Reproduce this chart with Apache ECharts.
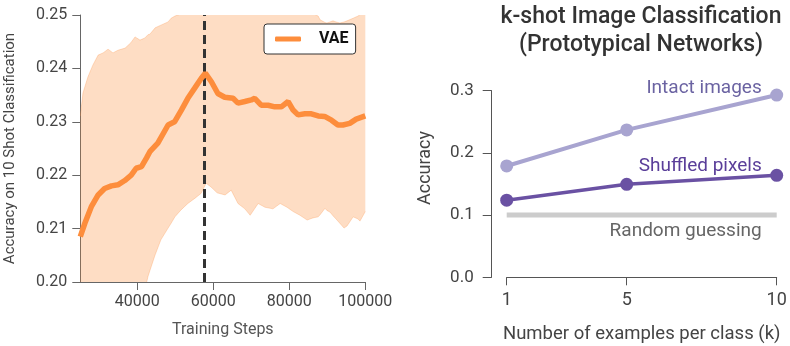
<!DOCTYPE html>
<html>
<head>
<meta charset="utf-8">
<script src="https://cdn.jsdelivr.net/npm/echarts@6/dist/echarts.min.js"></script>
<style>html,body{margin:0;padding:0;background:#fff}#c{width:790px;height:346px}</style>
</head>
<body>
<div id="c"></div>
<script>
// ---- Left panel data (VAE accuracy vs training steps) ----
const vaeSteps = [25000,26200,27900,29700,31400,33200,34900,36700,38400,39700,41100,42400,43300,45400,48100,49800,51600,53300,55100,56800,57900,59500,61200,63000,65200,66500,68300,70000,70900,72600,74400,76200,77900,79700,81000,82300,84100,85800,87600,89300,91100,92800,94100,95900,97600,100000];
const vaeAcc = [0.2085,0.2110,0.2141,0.2163,0.2175,0.2180,0.2182,0.2190,0.2200,0.2213,0.2216,0.2232,0.2244,0.2260,0.2294,0.2300,0.2322,0.2344,0.2363,0.2381,0.2391,0.2375,0.2353,0.2346,0.2344,0.2335,0.2338,0.2341,0.2344,0.2331,0.2331,0.2328,0.2328,0.2338,0.2322,0.2313,0.2315,0.2315,0.2311,0.2310,0.2303,0.2294,0.2294,0.2297,0.2305,0.2311];
const bandSteps = [25000,25700,27000,28300,29700,31000,32300,33600,34900,36800,38300,39400,40700,42000,42800,43300,44700,46200,48100,48900,49900,51500,53300,55200,56800,58100,59400,61000,63100,64700,66500,68300,69700,71800,73600,75700,77600,79400,81000,82800,84700,86200,87600,88100,89400,89900,90700,91500,92300,93300,94400,95200,96800,98100,98600,100000];
const bandUpper = [0.2311,0.2354,0.2384,0.2406,0.2425,0.2429,0.2436,0.2429,0.2434,0.2438,0.2448,0.2459,0.2453,0.2457,0.2463,0.2464,0.2476,0.2481,0.2487,0.2494,0.2498,0.2502,0.2506,0.2512,0.2515,0.2518,0.2516,0.2514,0.2517,0.2515,0.2513,0.2516,0.2518,0.2515,0.2512,0.2514,0.2511,0.2513,0.2510,0.2508,0.2506,0.2503,0.2498,0.2491,0.2486,0.2485,0.2487,0.2489,0.2487,0.2485,0.2487,0.2489,0.2494,0.2498,0.2501,0.2502];
const bandLower = [0.180,0.181,0.182,0.183,0.184,0.185,0.186,0.187,0.188,0.190,0.192,0.194,0.196,0.1985,0.2010,0.2021,0.2051,0.2079,0.2101,0.2110,0.2122,0.2135,0.2147,0.2157,0.2166,0.2185,0.2178,0.2167,0.2163,0.2172,0.2147,0.2137,0.2125,0.2147,0.2140,0.2137,0.2147,0.2140,0.2132,0.2125,0.2116,0.2120,0.2122,0.2126,0.2138,0.2134,0.2131,0.2124,0.2118,0.2110,0.2101,0.2105,0.2122,0.2118,0.2114,0.2132];
const bestStep = 57500;
const leftXTicks = [40000,60000,80000,100000];

// ---- Right panel data (k-shot classification) ----
const kValues = [1,5,10];
const intactAcc = [0.179,0.237,0.293];
const shuffledAcc = [0.124,0.1495,0.164];
const randomK = [1,10];
const randomAcc = [0.1,0.1];

const FONT = 'Roboto, "Noto Sans", sans-serif';
const chart = echarts.init(document.getElementById('c'), null, {renderer:'canvas'});

const pairs = (xs, ys) => xs.map((x,i)=>[x, ys[i]]);
function withLast(xs, ys){ return xs.map((x,i)=>({value:[x,ys[i]]})); }
function labelLast(arr, txt, color, dx, dy){
  const n = arr.length - 1;
  arr[n].label = {show:true, formatter: txt, position:[dx,dy], align:'right', verticalAlign:'middle', color: color, fontFamily: FONT, fontSize: 19};
  return arr;
}

function renderBand(params, api){
  if (params.dataIndex !== 0) return;
  const up = bandSteps.map((s,i)=>api.coord([s, bandUpper[i]]));
  const lo = bandSteps.map((s,i)=>api.coord([s, bandLower[i]]));
  const poly = up.concat(lo.slice().reverse());
  return {
    type: 'group',
    children: [
      {type:'polygon', shape:{points: poly}, style:{fill:'rgba(253,141,60,0.3)'}},
      {type:'polyline', shape:{points: up}, style:{fill:null, stroke:'rgba(253,141,60,0.28)', lineWidth:1}},
      {type:'polyline', shape:{points: lo}, style:{fill:null, stroke:'rgba(253,141,60,0.28)', lineWidth:1}}
    ]
  };
}

const option = {
  backgroundColor: '#fff',
  animation: false,
  title: {
    text: 'k-shot Image Classification\n(Prototypical Networks)',
    left: 636, top: -2, textAlign: 'center',
    textStyle: {fontFamily: FONT, fontSize: 23, fontWeight: 500, color: '#333', lineHeight: 28}
  },
  legend: {
    data: [{name:'VAE'}],
    left: 264, top: 24,
    padding: [7, 7, 7, 11],
    icon: 'roundRect',
    itemWidth: 26, itemHeight: 5,
    borderColor: '#333', borderWidth: 1, borderRadius: 3,
    backgroundColor: '#fff',
    textStyle: {fontFamily: FONT, fontSize: 16, fontWeight: 'bold', color: '#111', padding: [0,0,0,13], lineHeight: 15}
  },
  graphic: [
    {type:'text', x: 425, y: 168, rotation: Math.PI/2,
     style:{text:'Accuracy', align:'center', verticalAlign:'middle', fill:'#444', font:'18px Roboto, "Noto Sans", sans-serif'}}
  ],
  grid: [
    {left: 80.3, right: 424.7, top: 15, bottom: 64, outerBoundsMode: 'none', containLabel: false},
    {left: 506.7, right: 13.3, top: 90.7, bottom: 68.7, outerBoundsMode: 'none', containLabel: false}
  ],
  xAxis: [
    {
      gridIndex: 0, type: 'value', min: 25000, max: 100000,
      name: 'Training Steps', nameLocation: 'middle', nameGap: 40,
      nameTextStyle: {fontFamily: FONT, fontSize: 16, color: '#555'},
      axisLine: {show: true, lineStyle: {color: '#666', width: 1}},
      axisTick: {show: true, length: 8, customValues: leftXTicks, lineStyle: {color: '#666'}},
      axisLabel: {customValues: leftXTicks, margin: 12, fontFamily: FONT, fontSize: 16, color: '#444', formatter: v => String(v)},
      splitLine: {show: false}
    },
    {
      gridIndex: 1, type: 'value', min: 1, max: 10, offset: 1.5,
      name: 'Number of examples per class (k)', nameLocation: 'middle', nameGap: 46,
      nameTextStyle: {fontFamily: FONT, fontSize: 18.5, color: '#444'},
      axisLine: {show: true, lineStyle: {color: '#555', width: 1}},
      axisTick: {show: true, length: 8, customValues: kValues, lineStyle: {color: '#555'}},
      axisLabel: {customValues: kValues, margin: 13, fontFamily: FONT, fontSize: 18, color: '#444', formatter: v => String(v)},
      splitLine: {show: false}
    }
  ],
  yAxis: [
    {
      gridIndex: 0, type: 'value', min: 0.20, max: 0.25, interval: 0.01,
      name: 'Accuracy on 10 Shot Classification', nameLocation: 'middle', nameGap: 63,
      nameTextStyle: {fontFamily: FONT, fontSize: 15, color: '#444'},
      axisLine: {show: true, lineStyle: {color: '#666', width: 1}},
      axisTick: {show: true, length: 8, lineStyle: {color: '#666'}},
      axisLabel: {margin: 13, fontFamily: FONT, fontSize: 16, color: '#444', formatter: v => v.toFixed(2)},
      splitLine: {show: false}
    },
    {
      gridIndex: 1, type: 'value', min: 0, max: 0.3, interval: 0.1, offset: 15,
      axisLine: {show: true, lineStyle: {color: '#555', width: 1}},
      axisTick: {show: true, length: 9, lineStyle: {color: '#555'}},
      axisLabel: {margin: 18, fontFamily: FONT, fontSize: 17, color: '#444', formatter: v => v.toFixed(1)},
      splitLine: {show: false}
    }
  ],
  series: [
    {
      name: 'band', type: 'custom', xAxisIndex: 0, yAxisIndex: 0,
      coordinateSystem: 'cartesian2d', clip: true, silent: true,
      data: [[bandSteps[0], bandLower[0]]],
      renderItem: renderBand, z: 1
    },
    {
      name: 'VAE', type: 'line', xAxisIndex: 0, yAxisIndex: 0,
      data: pairs(vaeSteps, vaeAcc), symbol: 'none',
      lineStyle: {color: '#fd8d3c', width: 5.5},
      itemStyle: {color: '#fd8d3c'},
      markLine: {
        silent: true, symbol: 'none', label: {show: false},
        lineStyle: {color: '#333', width: 3, type: [9, 5]},
        data: [{xAxis: bestStep}]
      },
      z: 5
    },
    {
      name: 'Random guessing', type: 'line', xAxisIndex: 1, yAxisIndex: 1,
      data: labelLast(withLast(randomK, randomAcc), 'Random guessing', '#666', -15, 15.7),
      symbol: 'circle', symbolSize: 0.01, showSymbol: true,
      lineStyle: {color: '#cccccc', width: 5},
      itemStyle: {color: '#cccccc'}
    },
    {
      name: 'Intact images', type: 'line', xAxisIndex: 1, yAxisIndex: 1,
      data: labelLast(withLast(kValues, intactAcc), 'Intact images', '#6b63a2', -8.5, 0),
      symbol: 'circle', symbolSize: 13,
      lineStyle: {color: '#a8a4d0', width: 4},
      itemStyle: {color: '#a8a4d0'}
    },
    {
      name: 'Shuffled pixels', type: 'line', xAxisIndex: 1, yAxisIndex: 1,
      data: labelLast(withLast(kValues, shuffledAcc), 'Shuffled pixels', '#5a3e99', -8.5, -3),
      symbol: 'circle', symbolSize: 13,
      lineStyle: {color: '#6a51a3', width: 3.5},
      itemStyle: {color: '#6a51a3'}
    }
  ]
};
chart.setOption(option);
</script>
</body>
</html>
